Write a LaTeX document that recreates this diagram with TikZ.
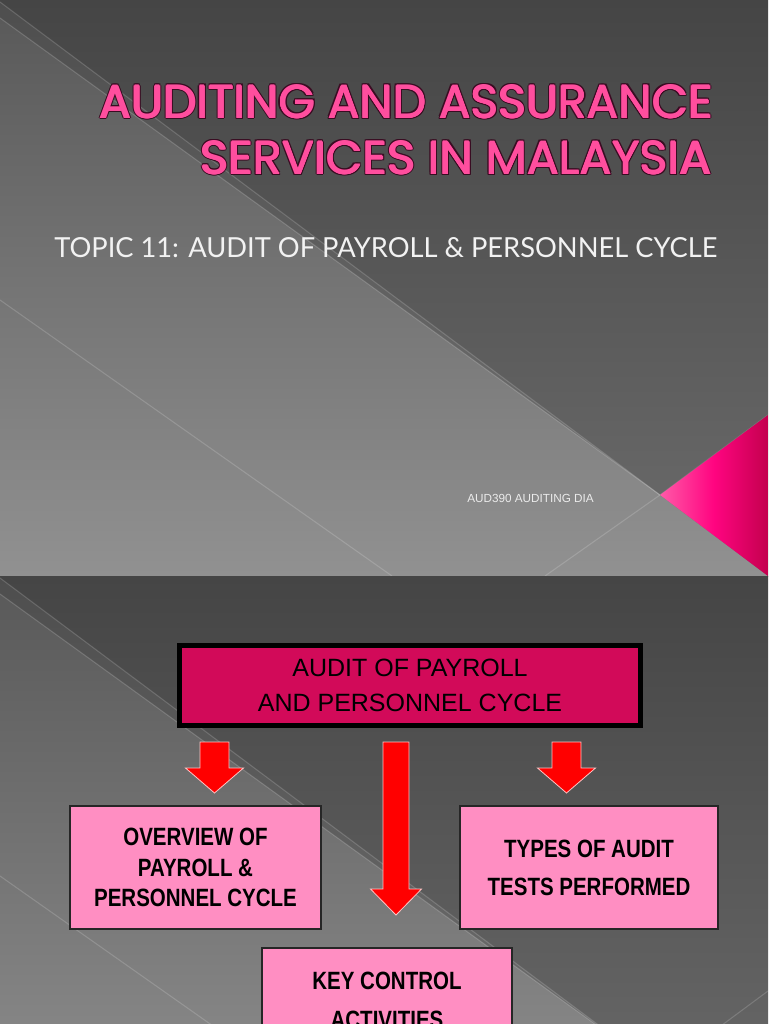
\documentclass[tikz,border=0pt]{standalone}
\usepackage{fontspec}
\setmainfont{Liberation Sans}
\newfontfamily\boxfont{Liberation Sans}[FakeStretch=0.82]
\newfontfamily\titlefont{Poppins}
\newfontfamily\subfont{Lato}
\newlength\px
\setlength\px{0.75pt}
\definecolor{bgTop}{HTML}{454545}
\definecolor{bgBot}{HTML}{6C6C6C}
\definecolor{ltTop}{HTML}{5A5A5A}
\definecolor{ltBot}{HTML}{919191}
\definecolor{triL}{HTML}{FF5AA8}
\definecolor{triM}{HTML}{FF0480}
\definecolor{triR}{HTML}{C4004E}
\definecolor{titlePink}{HTML}{FF4E9E}
\definecolor{titleEdge}{HTML}{3A0C22}
\definecolor{mainFill}{HTML}{D20A59}
\definecolor{subFill}{HTML}{FF8EC2}
\definecolor{arrowRed}{HTML}{FF0000}
\definecolor{arrowEdge}{HTML}{FFC4C4}
\newcommand\slideback{%
  \shade[top color=bgTop, bottom color=bgBot] (0,0) rectangle (768,576);
  \shade[top color=ltTop, bottom color=ltBot] (0,18) -- (660,495) -- (768,576) -- (0,576) -- cycle;
  \fill[white, opacity=0.05] (0,2) -- (660,495) -- (0,18) -- cycle;
  \draw[decoline] (0,2) -- (660,495);
  \draw[decoline] (0,18) -- (660,495);
  \draw[decoline] (660,495) -- (768,415);
  \draw[decoline] (660,495) -- (545,576);
  \draw[decoline] (0,300) -- (392,576);
}
\newcommand\blockarrow[6]{% cx, top, headbase, tip, shafthalf, headhalf
  \draw[arrowsty] (#1-#5,#2) -- (#1+#5,#2) -- (#1+#5,#3) -- (#1+#6,#3) -- (#1,#4)
    -- (#1-#6,#3) -- (#1-#5,#3) -- cycle;}
\newcommand\titleA{\resizebox{613\px}{33\px}{\titlefont AUDITING AND ASSURANCE}}
\newcommand\titleB{\resizebox{511\px}{33\px}{\titlefont SERVICES IN MALAYSIA}}
\begin{document}
\begin{tikzpicture}[x=0.75pt,y=-0.75pt,
  decoline/.style={white, opacity=0.16, line width=0.8pt},
  arrowsty/.style={fill=arrowRed, draw=arrowEdge, line width=0.6pt, line join=miter},
  mainbox/.style={draw=black, line width=5\px, fill=mainFill, minimum width=461\px,
    minimum height=80\px, inner sep=0pt, align=center, text=black,
    font=\fontsize{18.75pt}{26.25pt}\selectfont},
  subbox/.style={draw=black!85, line width=1.5\px, fill=subFill, minimum width=251\px,
    minimum height=123\px, inner sep=0pt, align=center, text=black},
  titletext/.style={inner sep=0pt, anchor=base east},
]
\useasboundingbox (0,0) rectangle (768,1024);
% ---------- top slide ----------
\begin{scope}
  \clip (0,0) rectangle (768,576);
  \slideback
  \shade[left color=triL, right color=triR, middle color=triM] (660,495) -- (768,415) -- (768,576) -- cycle;
\end{scope}
% title with dark edge
\foreach \dx/\dy [count=\i] in {-1.8/0,1.8/0,0/-1.8,0/1.8,-1.3/-1.3,1.3/-1.3,-1.3/1.3,1.3/1.3}{
  \node[titletext, text=titleEdge] (tAe\i) at (713+\dx,118+\dy) {\titleA};
  \node[titletext, text=titleEdge] (tBe\i) at (712+\dx,174+\dy) {\titleB};
}
\foreach \dx/\dy [count=\i] in {-0.7/0,0.7/0,0/-0.5,0/0.5}{
  \node[titletext, text=titlePink] (tAp\i) at (713+\dx,118+\dy) {\titleA};
  \node[titletext, text=titlePink] (tBp\i) at (712+\dx,174+\dy) {\titleB};
}
\node[titletext, text=titlePink] (titleA) at (713,118) {\titleA};
\node[titletext, text=titlePink] (titleB) at (712,174) {\titleB};
\node[inner sep=0pt, anchor=base west, text=white!95!black] (subtitle) at (54,257)
  {\resizebox{663\px}{20\px}{\subfont TOPIC 11: AUDIT OF PAYROLL \& PERSONNEL CYCLE}};
\node[inner sep=0pt, anchor=base west, text=white!92!black,
  font=\fontsize{8.8pt}{10pt}\selectfont] (footer) at (467,502) {AUD390 AUDITING DIA};
% ---------- bottom slide ----------
\begin{scope}[shift={(0,576)}]
  \clip (0,0) rectangle (768,448);
  \slideback
\end{scope}
\node[mainbox] (main) at (410,685.5) {AUDIT OF PAYROLL\\AND PERSONNEL CYCLE};
\node[subbox, font=\boxfont\bfseries\fontsize{18.75pt}{22.9pt}\selectfont] (overview)
  at (195.5,867.5) {OVERVIEW OF\\PAYROLL \&\\PERSONNEL CYCLE};
\node[subbox, minimum width=258\px, font=\boxfont\bfseries\fontsize{18.75pt}{28.5pt}\selectfont] (types)
  at (589,867.5) {TYPES OF AUDIT\\TESTS PERFORMED};
\node[subbox, minimum width=250\px, minimum height=104\px,
  font=\boxfont\bfseries\fontsize{18.75pt}{29.25pt}\selectfont] (key)
  at (387,1000) {KEY CONTROL\\ACTIVITIES};
% block arrows
\blockarrow{214.5}{742}{768}{793}{14.5}{29}
\blockarrow{566.5}{742}{768}{793}{14.5}{29}
\blockarrow{396}{742}{889}{915}{13}{25.5}
\end{tikzpicture}
\end{document}
